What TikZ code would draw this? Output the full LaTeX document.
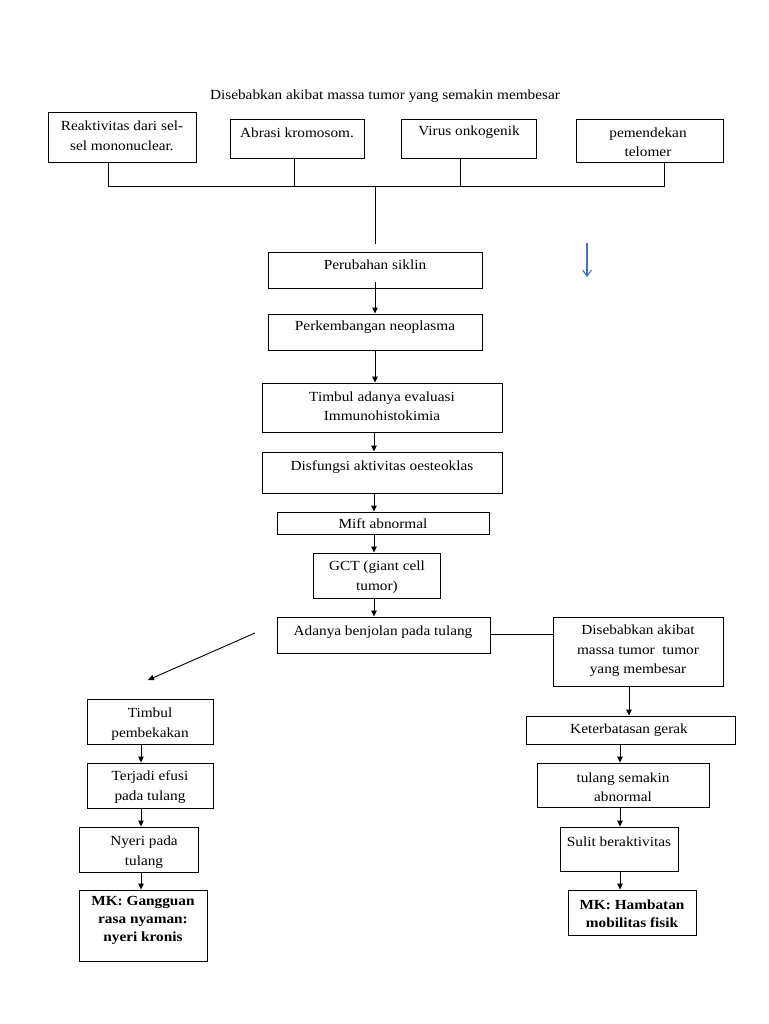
\documentclass[tikz,border=0pt]{standalone}
\usepackage{fontspec}
\setmainfont[FakeStretch=1.1]{Liberation Serif}
\usetikzlibrary{arrows.meta,fit}
\begin{document}
\begin{tikzpicture}[x=1pt,y=-1pt,
  box/.style={draw, inner sep=0pt, line width=0.9pt},
  txt/.style={inner sep=0pt, align=center, font=\fontsize{13.9}{19.5}\selectfont},
  btxt/.style={txt, font=\fontsize{13.9}{18}\selectfont\bfseries},
  conn/.style={line width=0.9pt},
  arr/.style={line width=0.9pt, -{Triangle[length=6pt,width=5.5pt]}},
  bluearr/.style={line width=1.1pt, draw={rgb,255:red,68;green,114;blue,196}, -{Straight Barb[length=6pt,width=9pt]}}]
\useasboundingbox (0,0) rectangle (768,1024);
\fill[white] (0,0) rectangle (768,1024);

\node[txt] (title) at (385,96) {Disebabkan akibat massa tumor yang semakin membesar};

% top causes
\node[box, fit={(48,112) (196,162)}] (r1) {};
\node[txt] at (122,136) {Reaktivitas dari sel-\\sel mononuclear.};
\node[box, fit={(230,119) (364,158)}] (r2) {};
\node[txt] at (297,133) {Abrasi kromosom.};
\node[box, fit={(401,119) (536,158)}] (r3) {};
\node[txt] at (469,132) {Virus onkogenik};
\node[box, fit={(576,119) (723,162)}] (r4) {};
\node[txt] at (648,142) {pemendekan\\telomer};

\coordinate (j1) at (108,186);
\coordinate (j2) at (294,186);
\coordinate (j3) at (460,186);
\coordinate (j4) at (664,186);
\coordinate (jm) at (375,186);
\coordinate (jb) at (375,244);
\draw[conn] (r1.south -| j1) -- (j1) -- (j4) -- (r4.south -| j4);
\draw[conn] (r2.south -| j2) -- (j2);
\draw[conn] (r3.south -| j3) -- (j3);
\draw[conn] (jm) -- (jb);

% central column
\node[box, fit={(268,252) (482,288)}] (b1) {};
\node[txt] at (375,265) {Perubahan siklin};
\node[box, fit={(268,314) (482,350)}] (b2) {};
\node[txt] at (375,327) {Perkembangan neoplasma};
\node[box, fit={(262,383) (502,432)}] (b3) {};
\node[txt] at (382,406) {Timbul adanya evaluasi\\Immunohistokimia};
\node[box, fit={(262,452) (502,493)}] (b4) {};
\node[txt] at (382,467) {Disfungsi aktivitas oesteoklas};
\node[box, fit={(277,512) (489,534)}] (b5) {};
\node[txt] at (383,524) {Mift abnormal};
\node[box, fit={(313,553) (440,598)}] (b6) {};
\node[txt] at (377,577) {GCT (giant cell\\tumor)};
\node[box, fit={(277,617) (490,653)}] (b7) {};
\node[txt] at (383,632) {Adanya benjolan pada tulang};

\coordinate (cx) at (375,0);
\coordinate (cy) at (374,0);
\draw[arr] ([yshift=6pt]b1.south -| cx) -- (b2.north -| cx);
\draw[arr] (b2.south -| cx) -- (b3.north -| cx);
\draw[arr] (b3.south -| cy) -- (b4.north -| cy);
\draw[arr] (b4.south -| cy) -- (b5.north -| cy);
\draw[arr] (b5.south -| cy) -- (b6.north -| cy);
\draw[arr] (b6.south -| cy) -- (b7.north -| cy);

% blue arrow
\coordinate (ba1) at (587,243);
\coordinate (ba2) at (587,277);
\draw[bluearr] (ba1) -- (ba2);

% right branch
\node[box, fit={(553,617) (723,686)}] (b8) {};
\node[txt] at (638,651) {Disebabkan akibat\\massa tumor\ \ tumor\\yang membesar};
\draw[conn] (b7.east |- 0,634) -- (b8.west |- 0,634);
\node[box, fit={(526,716) (735,744)}] (b9) {};
\node[txt] at (629,730) {Keterbatasan gerak};
\node[box, fit={(537,763) (709,807)}] (b10) {};
\node[txt] at (623,787) {tulang semakin\\abnormal};
\node[box, fit={(560,827) (678,871)}] (b11) {};
\node[txt] at (619,842) {Sulit beraktivitas};
\node[box, fit={(568,890) (696,935)}] (b12) {};
\node[btxt] at (632,914) {MK: Hambatan\\mobilitas fisik};
\coordinate (rx) at (629,0);
\coordinate (rx2) at (620,0);
\draw[arr] (b8.south -| rx) -- (b9.north -| rx);
\draw[arr] (b9.south -| rx2) -- (b10.north -| rx2);
\draw[arr] (b10.south -| rx2) -- (b11.north -| rx2);
\draw[arr] (b11.south -| rx2) -- (b12.north -| rx2);

% left branch
\coordinate (d1) at (255,633);
\coordinate (d2) at (148,680);
\draw[arr] (d1) -- (d2);
\node[box, fit={(87,699) (213,744)}] (l1) {};
\node[txt] at (150,724) {Timbul\\pembekakan};
\node[box, fit={(87,763) (213,808)}] (l2) {};
\node[txt] at (150,787) {Terjadi efusi\\pada tulang};
\node[box, fit={(79,827) (198,872)}] (l3) {};
\node[txt] at (144,852) {Nyeri pada\\tulang};
\node[box, fit={(79,890) (207,961)}] (l4) {};
\node[btxt] at (143,920) {MK: Gangguan\\rasa nyaman:\\nyeri kronis};
\coordinate (lx) at (141,0);
\draw[arr] (l1.south -| lx) -- (l2.north -| lx);
\draw[arr] (l2.south -| lx) -- (l3.north -| lx);
\draw[arr] (l3.south -| lx) -- (l4.north -| lx);
\end{tikzpicture}
\end{document}
